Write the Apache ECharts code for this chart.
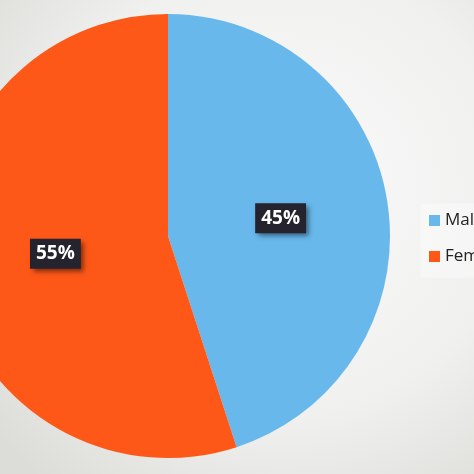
<!DOCTYPE html>
<html><head><meta charset="utf-8">
<script src="https://cdn.jsdelivr.net/npm/echarts@6/dist/echarts.min.js"></script>
<style>html,body{margin:0;padding:0;}#c{width:474px;height:474px;}</style>
</head><body><div id="c"></div>
<script>
const categories = ['Male', 'Female'];
const values = [45, 55];
const colors = ['#68B8EC', '#FE5818'];

const chart = echarts.init(document.getElementById('c'));
chart.setOption({
  backgroundColor: {
    type: 'radial', x: 0.6, y: 0.4, r: 0.8,
    colorStops: [{offset: 0, color: '#FAFAFA'}, {offset: 0.6, color: '#F0F0EF'}, {offset: 1, color: '#DCDCD8'}]
  },
  animation: false,
  legend: {
    orient: 'vertical',
    left: 421, top: 204,
    padding: [8, 10, 12, 8],
    itemWidth: 11, itemHeight: 11,
    itemGap: 19,
    icon: 'rect',
    backgroundColor: 'rgba(255,255,255,0.35)',
    borderColor: '#F7F7F7', borderWidth: 1,
    textStyle: {fontFamily: 'Open Sans', fontSize: 17, color: '#222'},
    data: categories
  },
  series: [{
    type: 'pie',
    center: [168, 236],
    radius: [0, 222],
    startAngle: 90,
    clockwise: true,
    data: categories.map((n, i) => ({name: n, value: values[i], itemStyle: {color: colors[i]}})),
    label: {
      show: true,
      position: 'inside',
      formatter: '{c}%',
      color: '#fff',
      fontFamily: 'Open Sans',
      fontWeight: 'bold',
      fontSize: 19,
      backgroundColor: '#24232E',
      padding: [6, 6, 5, 6],
      shadowColor: 'rgba(0,0,0,0.5)',
      shadowBlur: 5,
      shadowOffsetX: 3,
      shadowOffsetY: 3
    },
    labelLine: {show: false},
    emphasis: {disabled: true}
  }]
});
</script></body></html>
